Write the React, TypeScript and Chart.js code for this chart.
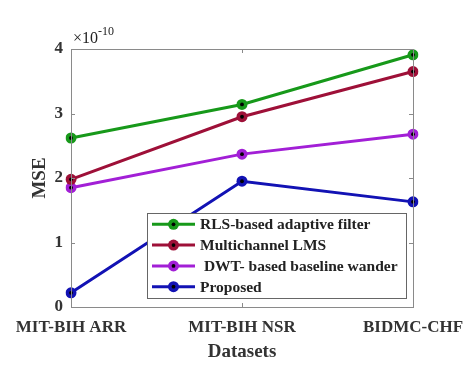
import React, { useEffect, useRef } from "react";
import { Chart, registerables } from "chart.js";

Chart.register(...registerables);

const categories = ["MIT-BIH ARR", "MIT-BIH NSR", "BIDMC-CHF"];
const seriesNames = ["RLS-based adaptive filter", "Multichannel LMS", " DWT- based baseline wander", "Proposed"];
const rlsValues = [2.62, 3.14, 3.91];
const lmsValues = [1.98, 2.95, 3.65];
const dwtValues = [1.85, 2.37, 2.68];
const proposedValues = [0.22, 1.95, 1.63];
const seriesColors = ["#17991a", "#9e1038", "#a21fd6", "#1212b4"];
const yTicks = [0, 1, 2, 3, 4];
const exponentLabel = "-10";

const FONT = "'Liberation Serif', 'Times New Roman', serif";

const framePlugin = {
  id: "frame",
  afterDatasetsDraw(chart: any) {
    const ctx = chart.ctx;
    const { left, right, top, bottom } = chart.chartArea;
    // black center dots on markers
    chart.data.datasets.forEach((ds: any, i: number) => {
      const meta = chart.getDatasetMeta(i);
      meta.data.forEach((pt: any) => {
        ctx.save();
        ctx.fillStyle = "#000";
        ctx.beginPath();
        ctx.arc(pt.x, pt.y, 1.9, 0, Math.PI * 2);
        ctx.fill();
        ctx.restore();
      });
    });
    ctx.save();
    ctx.strokeStyle = "#8a8a8a";
    ctx.lineWidth = 1;
    ctx.strokeRect(Math.round(left) + 0.5, Math.round(top) + 0.5, Math.round(right - left), Math.round(bottom - top));
    const ys = chart.scales.y;
    const xs = chart.scales.x;
    ctx.beginPath();
    yTicks.forEach((v) => {
      const y = Math.round(ys.getPixelForValue(v)) + 0.5;
      ctx.moveTo(left, y);
      ctx.lineTo(left + 4, y);
      ctx.moveTo(right, y);
      ctx.lineTo(right - 4, y);
    });
    categories.forEach((_, i) => {
      const x = Math.round(xs.getPixelForValue(i)) + 0.5;
      ctx.moveTo(x, top);
      ctx.lineTo(x, top + 4);
      ctx.moveTo(x, bottom);
      ctx.lineTo(x, bottom - 4);
    });
    ctx.stroke();
    // exponent label
    ctx.fillStyle = "#222";
    ctx.textBaseline = "alphabetic";
    ctx.textAlign = "left";
    ctx.font = `16px ${FONT}`;
    ctx.fillText("\u00d710", left + 2, top - 6);
    const w = ctx.measureText("\u00d710").width;
    ctx.font = `12px ${FONT}`;
    ctx.fillText(exponentLabel, left + 2 + w, top - 14);
    ctx.restore();
  },
  afterDraw(chart: any) {
    const ctx = chart.ctx;
    const { left, right, top, bottom } = chart.chartArea;
    const bx = left + 76;
    const bw = right - 7 - bx;
    const by = bottom - 94;
    const bh = 85;
    ctx.save();
    ctx.fillStyle = "#fff";
    ctx.fillRect(bx, by, bw, bh);
    ctx.strokeStyle = "#666";
    ctx.lineWidth = 1;
    ctx.strokeRect(Math.round(bx) + 0.5, Math.round(by) + 0.5, Math.round(bw), Math.round(bh));
    const rowH = 20.8;
    seriesNames.forEach((name, i) => {
      const cy = by + 11.3 + i * rowH;
      ctx.strokeStyle = seriesColors[i];
      ctx.lineWidth = 3;
      ctx.beginPath();
      ctx.moveTo(bx + 5, cy);
      ctx.lineTo(bx + 48, cy);
      ctx.stroke();
      ctx.fillStyle = seriesColors[i];
      ctx.beginPath();
      ctx.arc(bx + 26.5, cy, 5.5, 0, Math.PI * 2);
      ctx.fill();
      ctx.fillStyle = "#000";
      ctx.beginPath();
      ctx.arc(bx + 26.5, cy, 1.9, 0, Math.PI * 2);
      ctx.fill();
      ctx.fillStyle = "#222";
      ctx.font = `bold 15.5px ${FONT}`;
      ctx.textAlign = "left";
      ctx.textBaseline = "middle";
      ctx.fillText(name, bx + 53, cy + 1);
    });
    ctx.restore();
  },
};

export default function App() {
  const ref = useRef<HTMLCanvasElement | null>(null);
  useEffect(() => {
    document.body.style.margin = "0";
    const all = [rlsValues, lmsValues, dwtValues, proposedValues];
    const chart = new Chart(ref.current as HTMLCanvasElement, {
      type: "line",
      data: {
        labels: categories,
        datasets: all.map((vals, i) => ({
          label: seriesNames[i],
          data: vals,
          borderColor: seriesColors[i],
          backgroundColor: seriesColors[i],
          pointBackgroundColor: seriesColors[i],
          pointBorderWidth: 0,
          pointRadius: 5.5,
          borderWidth: 3,
          tension: 0,
          fill: false,
        })),
      },
      options: {
        responsive: false,
        animation: false,
        devicePixelRatio: 1,
        layout: { padding: { left: 0, right: 61, top: 49, bottom: 0 } },
        plugins: { legend: { display: false }, tooltip: { enabled: false } },
        scales: {
          x: {
            offset: false,
            grid: { display: false, drawTicks: false },
            border: { display: false },
            ticks: { color: "#333", font: { family: FONT, size: 17, weight: "bold" }, padding: 10, maxRotation: 0, autoSkip: false },
            title: { display: true, text: "Datasets", color: "#333", font: { family: FONT, size: 19, weight: "bold" }, padding: { top: 0, bottom: 9 } },
            afterFit: (s: any) => { s.height = 65; },
          },
          y: {
            min: 0,
            max: 4,
            grid: { display: false, drawTicks: false },
            border: { display: false },
            afterBuildTicks: (s: any) => { s.ticks = yTicks.map((v) => ({ value: v })); },
            ticks: { color: "#333", font: { family: FONT, size: 17, weight: "bold" }, padding: 8 },
            title: { display: true, text: "MSE", color: "#333", font: { family: FONT, size: 19, weight: "bold" }, padding: { top: 29, bottom: 0 } },
            afterFit: (s: any) => { s.width = 71; },
          },
        },
      },
      plugins: [framePlugin],
    } as any);
    return () => chart.destroy();
  }, []);
  return (
    <div style={{ position: "absolute", left: 0, top: 0, width: 474, height: 372, background: "#fff" }}>
      <canvas ref={ref} width={474} height={372} style={{ width: 474, height: 372, display: "block" }} />
    </div>
  );
}
